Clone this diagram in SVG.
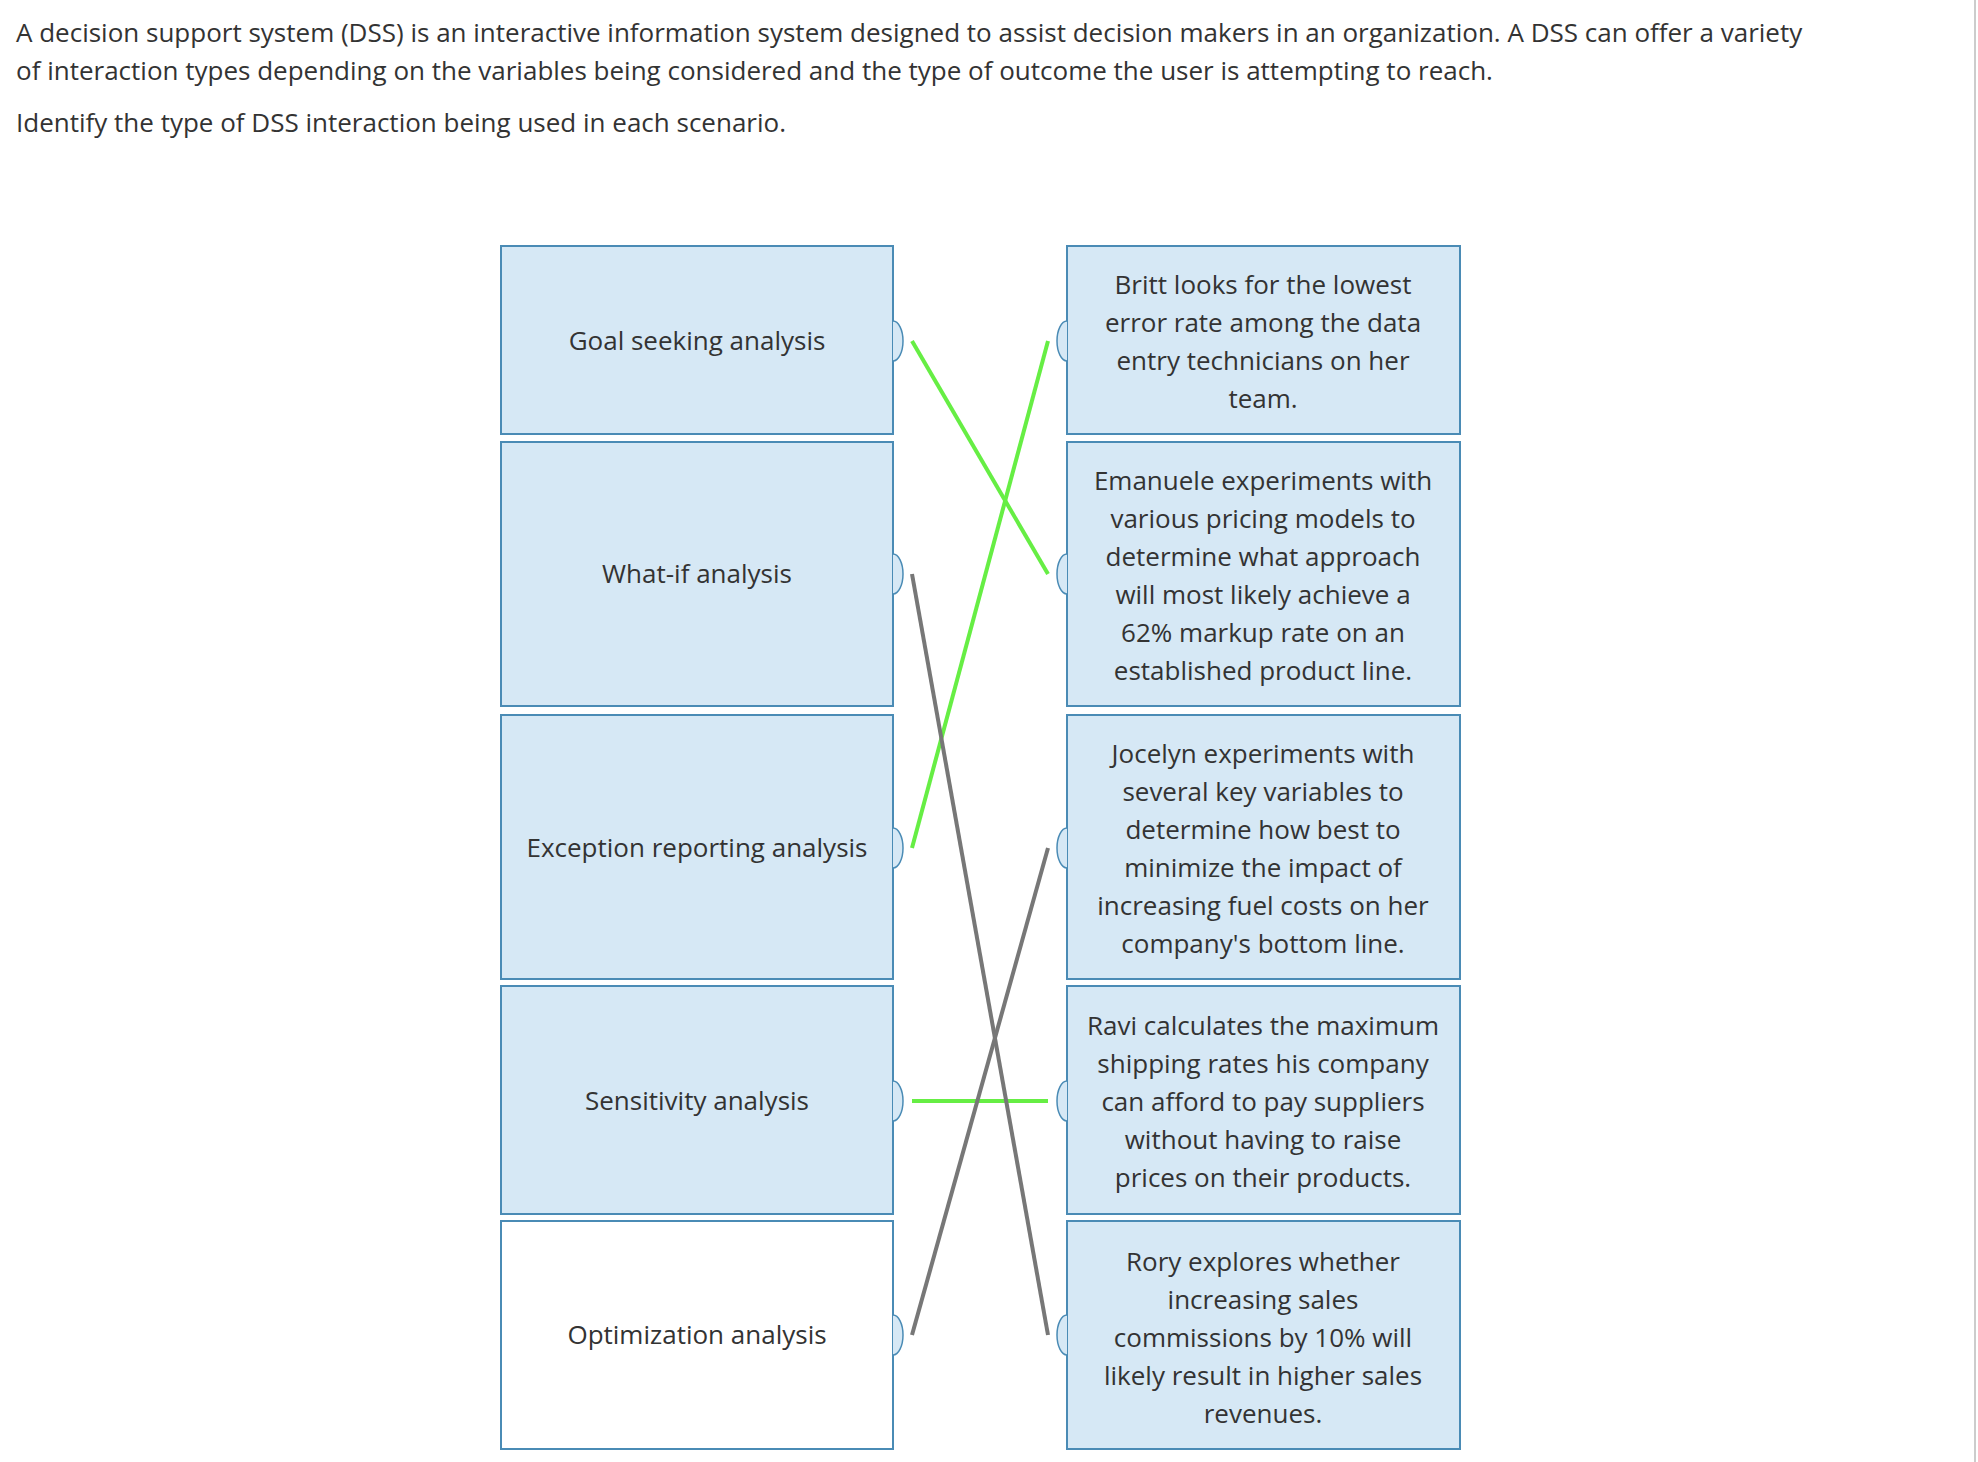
<svg xmlns="http://www.w3.org/2000/svg" width="1978" height="1462" viewBox="0 0 1978 1462">
<style>
text{font-family:"Open Sans","Noto Sans","Liberation Sans",sans-serif;font-size:26px;fill:#333}
.c{text-anchor:middle}
.b{fill:#d6e8f5;stroke:#4a8bb5;stroke-width:2}
.w{fill:#fff;stroke:#4a8bb5;stroke-width:2}
.t{fill:#d6e8f5;stroke:#4a8bb5;stroke-width:1.5}
.g{stroke:#66ee44;stroke-width:4;fill:none}
.k{stroke:#777;stroke-width:4;fill:none}
</style>
<rect width="1978" height="1462" fill="#fff"/>
<line x1="1975" y1="0" x2="1975" y2="1462" stroke="#ccc" stroke-width="2"/>
<text x="16" y="42">A decision support system (DSS) is an interactive information system designed to assist decision makers in an organization. A DSS can offer a variety</text>
<text x="16" y="80">of interaction types depending on the variables being considered and the type of outcome the user is attempting to reach.</text>
<text x="16" y="132">Identify the type of DSS interaction being used in each scenario.</text>
<g id="n-goal"><rect class="b" x="501" y="246" width="392" height="188"/><path class="t" d="M893,321 a10,20 0 0 1 0,40"/><text class="c" x="697" y="350">Goal seeking analysis</text></g>
<g id="n-whatif"><rect class="b" x="501" y="442" width="392" height="264"/><path class="t" d="M893,554 a10,20 0 0 1 0,40"/><text class="c" x="697" y="583">What-if analysis</text></g>
<g id="n-exception"><rect class="b" x="501" y="715" width="392" height="264"/><path class="t" d="M893,828 a10,20 0 0 1 0,40"/><text class="c" x="697" y="857">Exception reporting analysis</text></g>
<g id="n-sensitivity"><rect class="b" x="501" y="986" width="392" height="228"/><path class="t" d="M893,1081 a10,20 0 0 1 0,40"/><text class="c" x="697" y="1110">Sensitivity analysis</text></g>
<g id="n-optimization"><rect class="w" x="501" y="1221" width="392" height="228"/><path class="t" d="M893,1315 a10,20 0 0 1 0,40"/><text class="c" x="697" y="1344">Optimization analysis</text></g>
<g id="n-britt"><rect class="b" x="1067" y="246" width="393" height="188"/><path class="t" d="M1067,321 a10,20 0 0 0 0,40"/><text class="c" x="1263"><tspan x="1263" y="294">Britt looks for the lowest</tspan><tspan x="1263" y="332">error rate among the data</tspan><tspan x="1263" y="370">entry technicians on her</tspan><tspan x="1263" y="408">team.</tspan></text></g>
<g id="n-emanuele"><rect class="b" x="1067" y="442" width="393" height="264"/><path class="t" d="M1067,554 a10,20 0 0 0 0,40"/><text class="c"><tspan x="1263" y="490">Emanuele experiments with</tspan><tspan x="1263" y="528">various pricing models to</tspan><tspan x="1263" y="566">determine what approach</tspan><tspan x="1263" y="604">will most likely achieve a</tspan><tspan x="1263" y="642">62% markup rate on an</tspan><tspan x="1263" y="680">established product line.</tspan></text></g>
<g id="n-jocelyn"><rect class="b" x="1067" y="715" width="393" height="264"/><path class="t" d="M1067,828 a10,20 0 0 0 0,40"/><text class="c"><tspan x="1263" y="763">Jocelyn experiments with</tspan><tspan x="1263" y="801">several key variables to</tspan><tspan x="1263" y="839">determine how best to</tspan><tspan x="1263" y="877">minimize the impact of</tspan><tspan x="1263" y="915">increasing fuel costs on her</tspan><tspan x="1263" y="953">company's bottom line.</tspan></text></g>
<g id="n-ravi"><rect class="b" x="1067" y="986" width="393" height="228"/><path class="t" d="M1067,1081 a10,20 0 0 0 0,40"/><text class="c"><tspan x="1263" y="1035">Ravi calculates the maximum</tspan><tspan x="1263" y="1073">shipping rates his company</tspan><tspan x="1263" y="1111">can afford to pay suppliers</tspan><tspan x="1263" y="1149">without having to raise</tspan><tspan x="1263" y="1187">prices on their products.</tspan></text></g>
<g id="n-rory"><rect class="b" x="1067" y="1221" width="393" height="228"/><path class="t" d="M1067,1315 a10,20 0 0 0 0,40"/><text class="c"><tspan x="1263" y="1271">Rory explores whether</tspan><tspan x="1263" y="1309">increasing sales</tspan><tspan x="1263" y="1347">commissions by 10% will</tspan><tspan x="1263" y="1385">likely result in higher sales</tspan><tspan x="1263" y="1423">revenues.</tspan></text></g>
<g id="connectors">
<line class="g" x1="912" y1="341" x2="1048" y2="574"/>
<line class="g" x1="912" y1="848" x2="1048" y2="341"/>
<line class="g" x1="912" y1="1101" x2="1048" y2="1101"/>
<line class="k" x1="912" y1="574" x2="1048" y2="1335"/>
<line class="k" x1="912" y1="1335" x2="1048" y2="848"/>
</g>
</svg>
